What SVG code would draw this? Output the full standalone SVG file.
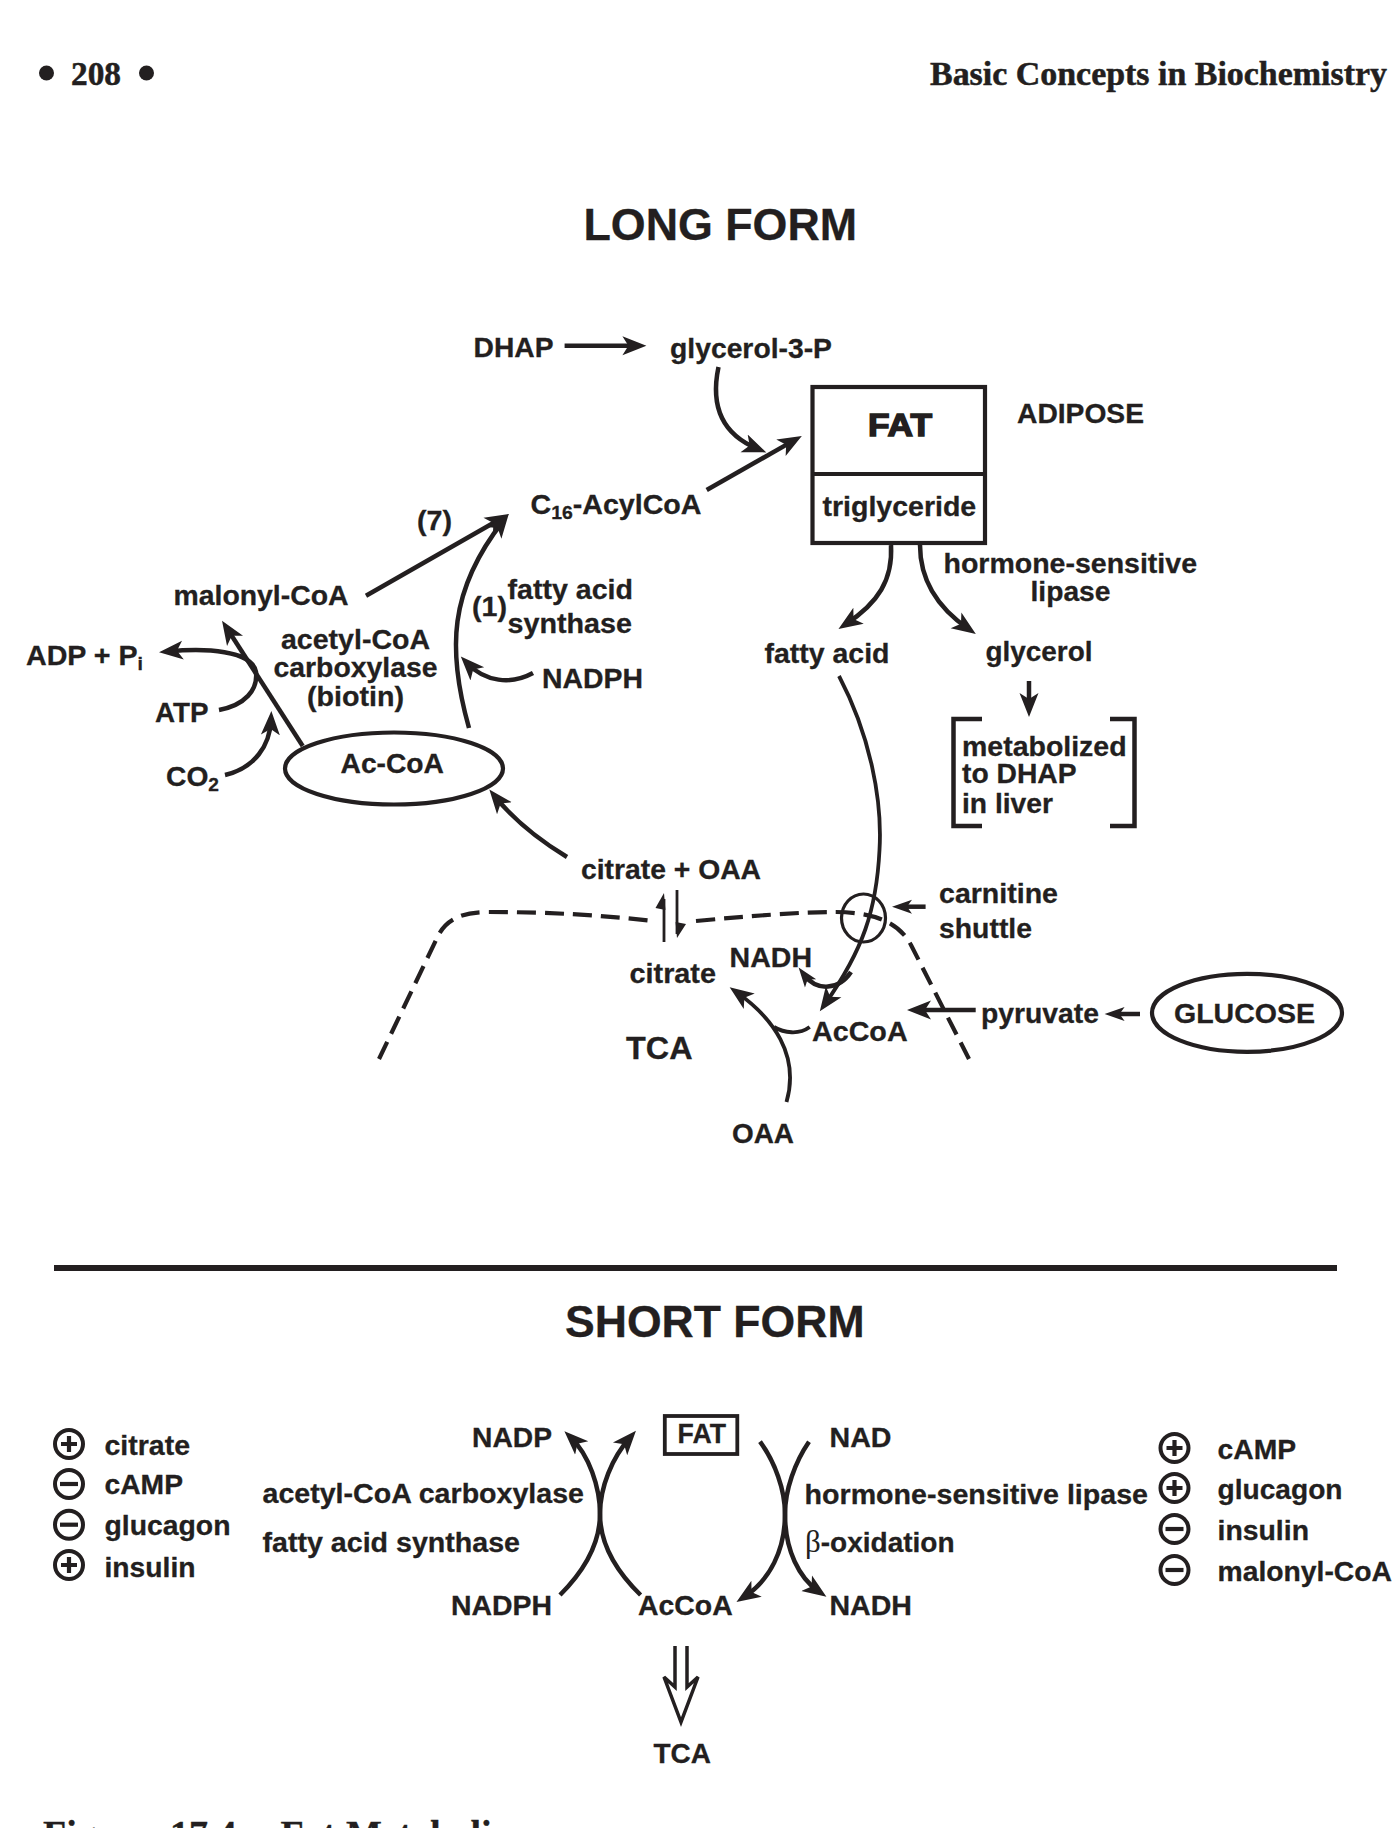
<svg xmlns="http://www.w3.org/2000/svg" width="1397" height="1828" viewBox="0 0 1397 1828">
<style>
text{fill:#231f20;stroke:#231f20;stroke-width:.3px;font-family:"Liberation Sans",Arial,sans-serif;font-weight:700;font-size:28px}
.serif{font-family:"Liberation Serif","Times New Roman",serif;font-size:33px;stroke-width:.5px}
.head{font-size:45px}
.big{font-size:32px}
.heavy{font-size:32px;stroke-width:1.5px}
.sub{font-size:19px}
.beta{font-family:"Liberation Serif",serif;font-weight:400;font-size:31px;stroke-width:0}
.l{fill:none;stroke:#231f20;stroke-width:4.5}
.thin{stroke-width:3.8}
.arr{marker-end:url(#ah)}
.arrs{marker-end:url(#as)}
.dash{fill:none;stroke:#231f20;stroke-width:4.2;stroke-dasharray:19 9}
.box{fill:#fff;stroke:#231f20;stroke-width:4.2}
.ring{fill:none;stroke:#231f20;stroke-width:4}
.sign{fill:none;stroke:#231f20;stroke-width:4.2}
.ink{fill:#231f20;stroke:none}
</style>
<defs>
<marker id="ah" markerUnits="userSpaceOnUse" markerWidth="26" markerHeight="22" viewBox="0 0 26 22" refX="15" refY="11" orient="auto"><path d="M0,1.5 L24,11 L0,20.5 L6,11 Z" fill="#231f20"/></marker>
<marker id="as" markerUnits="userSpaceOnUse" markerWidth="22" markerHeight="18" viewBox="0 0 22 18" refX="11" refY="9" orient="auto"><path d="M0,2 L20,9 L0,16 L5,9 Z" fill="#231f20"/></marker>
<g id="plus"><circle r="14" class="ring"/><path d="M-8,0H8M0,-8V8" class="sign"/></g>
<g id="minus"><circle r="14" class="ring"/><path d="M-9,0H9" class="sign"/></g>
</defs>
<rect width="1397" height="1828" fill="#fff"/>

<g id="page-header">
<circle cx="46.5" cy="73" r="7.5" class="ink"/>
<text class="serif" x="71" y="84.5" textLength="50" lengthAdjust="spacingAndGlyphs">208</text>
<circle cx="146.5" cy="73" r="7.5" class="ink"/>
<text class="serif" x="930" y="84.5" textLength="457" lengthAdjust="spacingAndGlyphs">Basic Concepts in Biochemistry</text>
</g>
<text id="title-long" class="head" x="583.5" y="240" textLength="273.5" lengthAdjust="spacingAndGlyphs">LONG FORM</text>
<text id="title-short" class="head" x="565" y="1337" textLength="299.5" lengthAdjust="spacingAndGlyphs">SHORT FORM</text>
<rect id="divider" x="54" y="1265" width="1283" height="6" fill="#231f20"/>

<g id="connectors">
<path class="dash" d="M379,1059 L437,938 C446,918 464,912 489,912 C 549,912 600,915 653,921"/>
<path class="dash" d="M696,921 C750,916 800,912 834,912 C869,912 898,920 911,945 L969,1059"/>
<path class="l arr" d="M564.6,345.7 L637.4,345.7"/>
<path class="l arr" d="M718.5,367 C710.5,405 721,434 758,449"/>
<path class="l arr" d="M706.7,490 L794,440.4"/>
<path class="l arr" d="M366,595.7 L501.2,518.5"/>
<path class="l arr" d="M469,728 C447,650 449,590 503.2,521"/>
<path class="l arr" d="M533,673 C511,685 485,682 467,663"/>
<path class="l arr" d="M302.7,746 L226.9,628.3"/>
<path class="l arr" d="M219,710 C245,705 258,690 256,672 C252,650 205,648 168,651.5"/>
<path class="l arr" d="M225,775 C255,768 270,745 271,720"/>
<path class="l arr" d="M567,857 C539,840 514,820 495,796.5"/>
<path class="l arr" d="M891,545 C893,580 878,603 846,624"/>
<path class="l arr" d="M920,545 C920,580 938,608 968.4,628.8"/>
<path class="l arr" d="M1029,681 L1029,708"/>
<path class="l thin arr" d="M839,676 C870,735 882.5,800 879.5,850 C876.5,910 863,950 825,1004"/>
<path class="l arrs" d="M851,972 C839,990 817,992 804,974.6"/>
<path class="l arrs" d="M925.6,906.7 L901,906.7"/>
<path class="l arr" d="M975.7,1010 L916,1010"/>
<path class="l arrs" d="M1140,1014 L1113.6,1014"/>
<path class="l thin arr" d="M786.5,1102 C800,1055 773,1018 737,992.5"/>
<path class="l thin" d="M809.7,1027 C799,1035 784,1033 774,1027"/>
<path class="l" style="stroke-width:2.8" d="M664,942 V899"/>
<path class="ink" d="M664,893 L665.4,910 L655.5,908 Z"/>
<path class="l" style="stroke-width:2.8" d="M677,890 V934"/>
<path class="ink" d="M677,938 L675.6,922 L686,924 Z"/>
<path class="l arr" d="M560,1595 C584,1571 600,1545 600,1514 C600,1487 589,1455 570.9,1437.6"/>
<path class="l arr" d="M640.6,1595 C616,1571 600,1545 600,1514 C600,1487 612,1458 630,1437.6"/>
<path class="l arr" d="M809,1441.7 C795,1462 785,1490 785,1514 C785,1550 770,1580 744,1597"/>
<path class="l arr" d="M760,1441.7 C775,1462 785,1490 785,1514 C785,1550 799,1578 819,1591.7"/>
<path class="l" style="stroke-width:3.5" d="M675,1646 V1687 L664,1677 L681,1722 L698,1677 L687,1687 V1646"/>
</g>

<g id="node-dhap"><text x="473.5" y="357" textLength="80" lengthAdjust="spacingAndGlyphs">DHAP</text></g>
<g id="node-glycerol-3-p"><text x="670" y="357.5" textLength="162" lengthAdjust="spacingAndGlyphs">glycerol-3-P</text></g>
<g id="node-fat">
<rect class="box" x="812.5" y="387" width="172.5" height="156"/>
<path class="l" style="stroke-width:4.2" d="M812.5,474 H985"/>
<text class="heavy" x="868" y="436" textLength="64" lengthAdjust="spacingAndGlyphs">FAT</text>
<text x="822.5" y="515.7" textLength="153.7" lengthAdjust="spacingAndGlyphs">triglyceride</text>
</g>
<g id="label-adipose"><text x="1017" y="423" textLength="127" lengthAdjust="spacingAndGlyphs">ADIPOSE</text></g>
<g id="node-c16"><text x="530.5" y="514" textLength="171" lengthAdjust="spacingAndGlyphs">C<tspan class="sub" dy="5">16</tspan><tspan dy="-5">-AcylCoA</tspan></text></g>
<g id="label-7"><text x="417" y="530" textLength="35" lengthAdjust="spacingAndGlyphs">(7)</text></g>
<g id="node-malonyl"><text x="173.5" y="605" textLength="175" lengthAdjust="spacingAndGlyphs">malonyl-CoA</text></g>
<g id="label-fas">
<text x="472" y="616" textLength="35" lengthAdjust="spacingAndGlyphs">(1)</text>
<text x="507.5" y="598.5" textLength="125.5" lengthAdjust="spacingAndGlyphs">fatty acid</text>
<text x="507.5" y="633" textLength="124.5" lengthAdjust="spacingAndGlyphs">synthase</text>
</g>
<g id="label-acc">
<text x="281" y="648.6" textLength="149" lengthAdjust="spacingAndGlyphs">acetyl-CoA</text>
<text x="273.5" y="677" textLength="164" lengthAdjust="spacingAndGlyphs">carboxylase</text>
<text x="307" y="705.7" textLength="97" lengthAdjust="spacingAndGlyphs">(biotin)</text>
</g>
<g id="node-nadph-long"><text x="542" y="687.5" textLength="101" lengthAdjust="spacingAndGlyphs">NADPH</text></g>
<g id="node-adp"><text x="26" y="664.5" textLength="117" lengthAdjust="spacingAndGlyphs">ADP + P<tspan class="sub" dy="5">i</tspan></text></g>
<g id="node-atp"><text x="155" y="722" textLength="53.5" lengthAdjust="spacingAndGlyphs">ATP</text></g>
<g id="node-co2"><text x="166" y="786" textLength="53" lengthAdjust="spacingAndGlyphs">CO<tspan class="sub" dy="5">2</tspan></text></g>
<g id="node-ac-coa">
<ellipse class="box" cx="394" cy="768.5" rx="109" ry="36"/>
<text x="340.5" y="773" textLength="103.5" lengthAdjust="spacingAndGlyphs">Ac-CoA</text>
</g>
<g id="label-lipase">
<text x="943.5" y="572.5" textLength="253.5" lengthAdjust="spacingAndGlyphs">hormone-sensitive</text>
<text x="1030.5" y="600.7" textLength="80" lengthAdjust="spacingAndGlyphs">lipase</text>
</g>
<g id="node-fatty-acid"><text x="764.5" y="663" textLength="125" lengthAdjust="spacingAndGlyphs">fatty acid</text></g>
<g id="node-glycerol"><text x="985.5" y="661" textLength="107" lengthAdjust="spacingAndGlyphs">glycerol</text></g>
<g id="node-metabolized">
<path class="l" d="M982,719 H953.5 V826 H982 M1110,719 H1134.5 V826 H1110"/>
<text x="962" y="755.5" textLength="164.6" lengthAdjust="spacingAndGlyphs">metabolized</text>
<text x="962" y="783" textLength="114.6" lengthAdjust="spacingAndGlyphs">to DHAP</text>
<text x="962" y="812.5" textLength="91" lengthAdjust="spacingAndGlyphs">in liver</text>
</g>
<g id="node-citrate-oaa"><text x="581" y="878.5" textLength="180" lengthAdjust="spacingAndGlyphs">citrate + OAA</text></g>
<g id="carnitine-shuttle">
<ellipse class="ring" style="stroke-width:3.2" cx="863.5" cy="918" rx="22" ry="24"/>
<text x="939" y="903" textLength="119" lengthAdjust="spacingAndGlyphs">carnitine</text>
<text x="939" y="938" textLength="93" lengthAdjust="spacingAndGlyphs">shuttle</text>
</g>
<g id="node-nadh-long"><text x="729.6" y="966.5" textLength="82.4" lengthAdjust="spacingAndGlyphs">NADH</text></g>
<g id="node-citrate"><text x="629.5" y="983" textLength="86.5" lengthAdjust="spacingAndGlyphs">citrate</text></g>
<g id="node-accoa-long"><text x="812" y="1041" textLength="95.6" lengthAdjust="spacingAndGlyphs">AcCoA</text></g>
<g id="node-pyruvate"><text x="981" y="1023" textLength="118" lengthAdjust="spacingAndGlyphs">pyruvate</text></g>
<g id="node-glucose">
<ellipse class="box" cx="1247" cy="1012.8" rx="95" ry="39"/>
<text x="1174" y="1023" textLength="141" lengthAdjust="spacingAndGlyphs">GLUCOSE</text>
</g>
<g id="label-tca-long"><text class="big" x="626" y="1058.5" textLength="66.5" lengthAdjust="spacingAndGlyphs">TCA</text></g>
<g id="node-oaa"><text x="732" y="1142.5" textLength="62" lengthAdjust="spacingAndGlyphs">OAA</text></g>

<g id="short-activators-left">
<use href="#plus" x="69" y="1444"/><text x="104.5" y="1454.5" textLength="85.5" lengthAdjust="spacingAndGlyphs">citrate</text>
<use href="#minus" x="69" y="1484"/><text x="104.5" y="1494" textLength="78.5" lengthAdjust="spacingAndGlyphs">cAMP</text>
<use href="#minus" x="69" y="1524.7"/><text x="104.5" y="1535" textLength="126" lengthAdjust="spacingAndGlyphs">glucagon</text>
<use href="#plus" x="69" y="1565"/><text x="104.5" y="1577" textLength="91" lengthAdjust="spacingAndGlyphs">insulin</text>
</g>
<g id="short-enzymes-left">
<text x="262.5" y="1502.7" textLength="321.5" lengthAdjust="spacingAndGlyphs">acetyl-CoA carboxylase</text>
<text x="262.5" y="1551.5" textLength="257.5" lengthAdjust="spacingAndGlyphs">fatty acid synthase</text>
</g>
<g id="node-nadp"><text x="472" y="1446.7" textLength="80" lengthAdjust="spacingAndGlyphs">NADP</text></g>
<g id="node-nadph-short"><text x="451" y="1615" textLength="101" lengthAdjust="spacingAndGlyphs">NADPH</text></g>
<g id="node-accoa-short"><text x="638" y="1615" textLength="94.7" lengthAdjust="spacingAndGlyphs">AcCoA</text></g>
<g id="node-tca-short"><text x="653.5" y="1763" textLength="57.5" lengthAdjust="spacingAndGlyphs">TCA</text></g>
<g id="node-fat-short">
<rect class="box" style="stroke-width:3.8" x="664.8" y="1416" width="72.5" height="38"/>
<text x="677.6" y="1443" textLength="48.4" lengthAdjust="spacingAndGlyphs">FAT</text>
</g>
<g id="node-nad"><text x="829.5" y="1446.7" textLength="62" lengthAdjust="spacingAndGlyphs">NAD</text></g>
<g id="node-nadh-short"><text x="829.5" y="1615" textLength="82.5" lengthAdjust="spacingAndGlyphs">NADH</text></g>
<g id="short-enzymes-right">
<text x="804.6" y="1504" textLength="343.4" lengthAdjust="spacingAndGlyphs">hormone-sensitive lipase</text>
<text x="805" y="1552"><tspan class="beta">β</tspan>-oxidation</text>
</g>
<g id="short-activators-right">
<use href="#plus" x="1174.5" y="1448"/><text x="1217.5" y="1458.5" textLength="78.6" lengthAdjust="spacingAndGlyphs">cAMP</text>
<use href="#plus" x="1174.5" y="1488"/><text x="1217.5" y="1498.5" textLength="125" lengthAdjust="spacingAndGlyphs">glucagon</text>
<use href="#minus" x="1174.5" y="1529"/><text x="1217.5" y="1539.5" textLength="91.5" lengthAdjust="spacingAndGlyphs">insulin</text>
<use href="#minus" x="1174.5" y="1570"/><text x="1217.5" y="1581" textLength="174.5" lengthAdjust="spacingAndGlyphs">malonyl-CoA</text>
</g>
<text id="caption" style="font-family:'Liberation Serif',serif;font-size:38px" x="43" y="1847"><tspan x="43">Figure</tspan><tspan x="170">17.4</tspan><tspan x="280.5">Fat</tspan><tspan x="346">Metabolism</tspan></text>
</svg>
